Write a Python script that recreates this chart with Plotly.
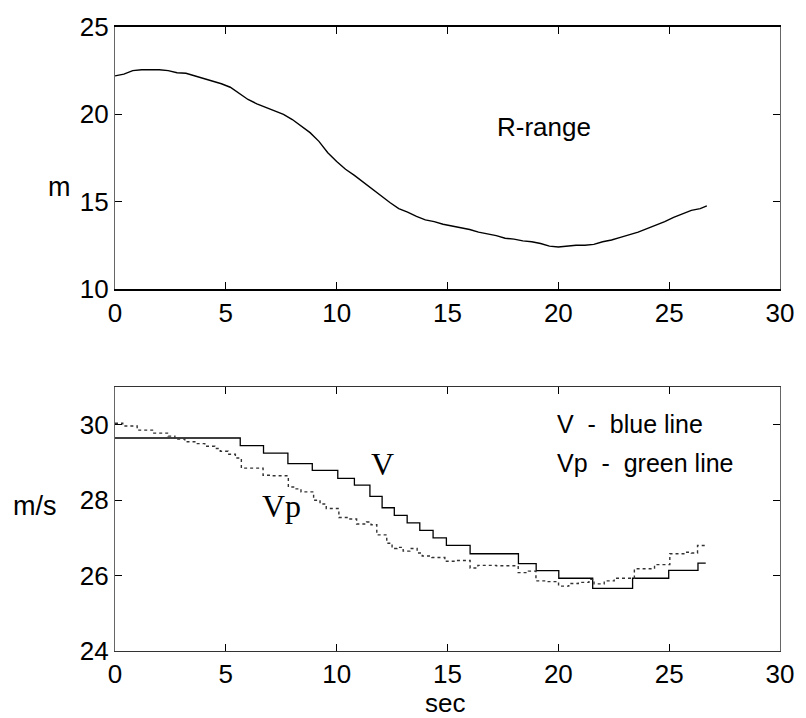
import plotly.graph_objects as go

# Top panel: R-range (m) vs time (s)
r_t = [0.0, 0.4, 0.8, 1.2, 1.6, 2.0, 2.4, 2.8, 3.2, 3.6, 4.0, 4.4, 4.8, 5.2, 5.6, 6.0, 6.4, 6.8,
       7.2, 7.6, 8.0, 8.4, 8.8, 9.2, 9.6, 10.0, 10.4, 10.8, 11.2, 11.6, 12.0, 12.4, 12.8, 13.2,
       13.6, 14.0, 14.4, 14.8, 15.2, 15.6, 16.0, 16.4, 16.8, 17.2, 17.6, 18.0, 18.4, 18.8, 19.2,
       19.6, 20.0, 20.4, 20.8, 21.2, 21.6, 22.0, 22.4, 22.8, 23.2, 23.6, 24.0, 24.4, 24.8, 25.2,
       25.6, 26.0, 26.4, 26.7]
r_val = [22.2, 22.3, 22.5, 22.55, 22.55, 22.55, 22.5, 22.38, 22.35, 22.2, 22.05, 21.92, 21.75,
         21.55, 21.2, 20.85, 20.6, 20.4, 20.2, 20.0, 19.7, 19.35, 18.95, 18.45, 17.8, 17.3, 16.85,
         16.5, 16.1, 15.7, 15.35, 14.95, 14.6, 14.4, 14.15, 13.95, 13.85, 13.7, 13.6, 13.5, 13.4,
         13.25, 13.15, 13.05, 12.9, 12.85, 12.75, 12.7, 12.6, 12.45, 12.4, 12.45, 12.5, 12.5,
         12.55, 12.7, 12.8, 12.95, 13.1, 13.25, 13.45, 13.65, 13.85, 14.1, 14.3, 14.5, 14.6, 14.75]

# Bottom panel: V (blue line) and Vp (green line), m/s
v_t = [0, 5.65, 6.7, 7.8, 8.9, 10.05, 10.8, 11.5, 12.05, 12.6, 13.18, 13.75, 14.35, 14.95,
       16.02, 18.2, 19.0, 20.02, 21.55, 23.35, 24.98, 26.3, 26.65]
v_val = [29.65, 29.45, 29.25, 28.97, 28.79, 28.58, 28.4, 28.1, 27.8, 27.6, 27.4, 27.2, 27.0,
         26.8, 26.58, 26.32, 26.13, 25.93, 25.66, 25.93, 26.14, 26.33, 26.33]

vp_t = [0, 0.35, 1.0, 1.75, 2.4, 2.7, 3.15, 3.6, 4.05, 4.5, 4.75, 5.1, 5.43, 5.7, 6.68, 7.0,
        7.82, 8.1, 8.39, 8.96, 9.25, 9.53, 10.1, 10.5, 10.9, 11.35, 11.55, 11.81, 12.26, 12.5,
        12.72, 13.0, 13.3, 13.63, 13.86, 14.3, 14.88, 15.4, 15.91, 16.02, 16.37, 17.2, 18.19,
        18.65, 18.99, 19.5, 20.01, 20.47, 20.9, 21.38, 21.61, 22.07, 22.52, 23.43, 24.34, 25.03,
        25.71, 26.0, 26.28, 26.62]
vp_val = [30.04, 29.97, 29.86, 29.78, 29.7, 29.62, 29.55, 29.5, 29.43, 29.37, 29.3, 29.22,
          29.12, 28.85, 28.66, 28.65, 28.35, 28.3, 28.22, 28.0, 27.9, 27.78, 27.54, 27.5, 27.37,
          27.42, 27.35, 27.08, 26.86, 26.72, 26.75, 26.65, 26.72, 26.6, 26.52, 26.48, 26.38,
          26.4, 26.4, 26.2, 26.27, 26.26, 26.08, 26.12, 25.86, 25.84, 25.72, 25.79, 25.82, 25.9,
          25.78, 25.86, 25.93, 26.18, 26.29, 26.58, 26.62, 26.6, 26.8, 26.8]

x_ticks = [0, 5, 10, 15, 20, 25, 30]
top_y_ticks = [10, 15, 20, 25]
bot_y_ticks = [24, 26, 28, 30]

SANS = "Liberation Sans, Arial, sans-serif"
SERIF = "Liberation Serif, Times New Roman, DejaVu Serif, serif"

fig = go.Figure()
fig.add_trace(go.Scatter(x=r_t, y=r_val, mode="lines", line=dict(color="black", width=1.4),
                         xaxis="x", yaxis="y", showlegend=False))
fig.add_trace(go.Scatter(x=v_t, y=v_val, mode="lines", line=dict(color="black", width=1.3, shape="hv"),
                         xaxis="x2", yaxis="y2", showlegend=False))
fig.add_trace(go.Scatter(x=vp_t, y=vp_val, mode="lines",
                         line=dict(color="#333333", width=1.4, shape="hv", dash="dot"),
                         xaxis="x2", yaxis="y2", showlegend=False))

axis_common = dict(ticks="inside", ticklen=7, tickcolor="black", showgrid=False, zeroline=False,
                   showline=True, mirror="ticks", tickfont=dict(family=SANS, size=26, color="black"))

fig.update_layout(
    width=806, height=718,
    margin=dict(l=115, r=15, t=22, b=67),
    paper_bgcolor="white", plot_bgcolor="white",
    xaxis=dict(domain=[0, 1], range=[0, 30], tickvals=x_ticks, anchor="y",
               linecolor="black", linewidth=1.8, **axis_common),
    yaxis=dict(domain=[0.5803, 1], range=[10, 25], tickvals=top_y_ticks, anchor="x",
               linecolor="#666666", linewidth=1.2, **axis_common),
    xaxis2=dict(domain=[0, 1], range=[0, 30], tickvals=x_ticks, anchor="y2",
                linecolor="#333333", linewidth=1.2, **axis_common),
    yaxis2=dict(domain=[0, 0.4229], range=[24, 31], tickvals=bot_y_ticks, anchor="x2",
                linecolor="#666666", linewidth=1.2, **axis_common),
)

annots = [
    dict(text="m", xref="paper", yref="paper", x=-0.0828, y=0.744, font=dict(family=SANS, size=27)),
    dict(text="m/s", xref="paper", yref="paper", x=-0.1198, y=0.232, font=dict(family=SANS, size=27)),
    dict(text="sec", xref="paper", yref="paper", x=0.4956, y=-0.084, font=dict(family=SANS, size=26)),
    dict(text="R-range", xref="x", yref="y", x=19.35, y=19.26, font=dict(family=SANS, size=26)),
    dict(text="V  -  blue line", xref="x2", yref="y2", x=19.85, y=30.03, xanchor="left",
         font=dict(family=SANS, size=25)),
    dict(text="Vp  -  green line", xref="x2", yref="y2", x=19.85, y=29.0, xanchor="left",
         font=dict(family=SANS, size=25)),
    dict(text="V", xref="x2", yref="y2", x=12.05, y=28.95, font=dict(family=SERIF, size=32)),
    dict(text="Vp", xref="x2", yref="y2", x=7.5, y=27.85, font=dict(family=SERIF, size=32)),
]
for a in annots:
    a["showarrow"] = False
    a.setdefault("xanchor", "center")
    a["yanchor"] = "middle"
    a["font"]["color"] = "black"
fig.update_layout(annotations=annots)

fig.write_html("out.html")
